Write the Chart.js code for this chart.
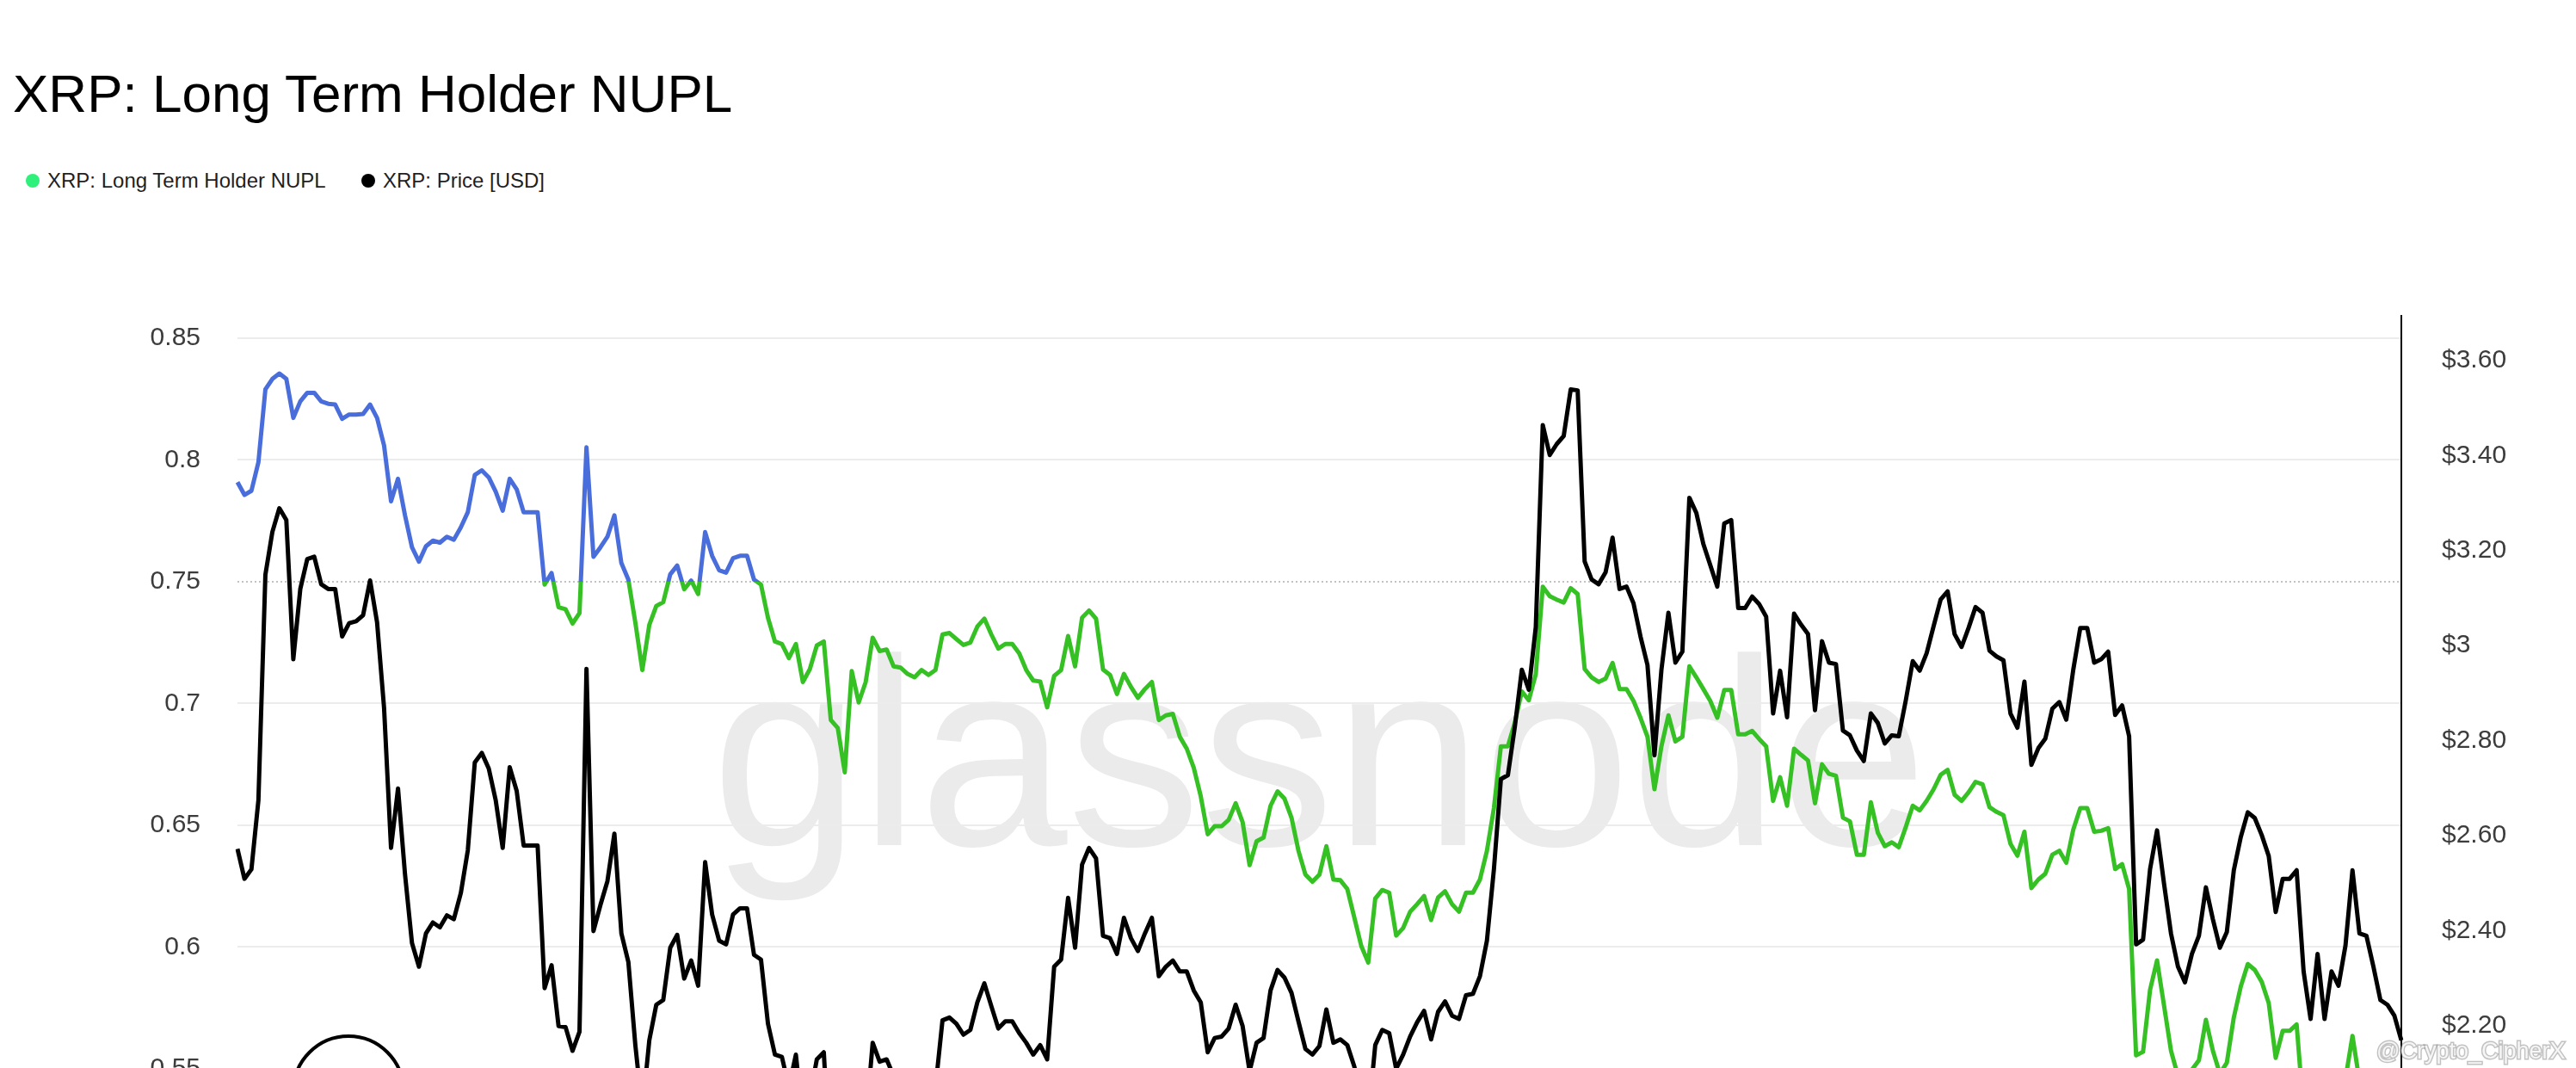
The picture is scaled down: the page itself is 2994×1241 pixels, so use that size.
<!DOCTYPE html>
<html>
<head>
<meta charset="utf-8">
<title>XRP: Long Term Holder NUPL</title>
<script src="https://cdn.jsdelivr.net/npm/chart.js@4.4.1/dist/chart.umd.min.js"></script>
<style>
  html, body { margin: 0; padding: 0; background: #fff; overflow: hidden; }
  #page { position: relative; width: 2994px; height: 1241px; overflow: hidden; font-family: "Liberation Sans", Arial, sans-serif; }
  h1 { position: absolute; left: 15px; top: 78px; margin: 0; font-size: 62px; line-height: 62px; font-weight: 400; color: #000; white-space: nowrap; }
  .item { position: absolute; top: 198px; height: 24px; display: flex; align-items: center; font-size: 24px; line-height: 24px; color: #1f1f1f; white-space: nowrap; }
  .dot { width: 16px; height: 16px; border-radius: 50%; margin-right: 9px; }
  #chart { position: absolute; left: 0; top: 0; }
</style>
</head>
<body>
<div id="page">
  <h1>XRP: Long Term Holder NUPL</h1>
  <div id="legend"></div>
  <canvas id="chart" width="2994" height="1590"></canvas>
</div>
<script>
// daily values, first day 2025-01-08
const startDay = '2025-01-08'

const nupl = [
  0.7908, 0.7856, 0.7873, 0.7990, 0.8289, 0.8332, 0.8354, 0.8332, 0.8172, 0.8240,
  0.8275, 0.8275, 0.8240, 0.8230, 0.8227, 0.8168, 0.8186, 0.8186, 0.8188, 0.8227,
  0.8172, 0.8059, 0.7830, 0.7922, 0.7772, 0.7641, 0.7582, 0.7645, 0.7668, 0.7660,
  0.7684, 0.7672, 0.7723, 0.7785, 0.7938, 0.7957, 0.7928, 0.7869, 0.7791, 0.7922,
  0.7879, 0.7785, 0.7785, 0.7785, 0.7488, 0.7535, 0.7395, 0.7387, 0.7328, 0.7371,
  0.8051, 0.7602, 0.7641, 0.7684, 0.7772, 0.7576, 0.7508, 0.7332, 0.7137, 0.7322,
  0.7400, 0.7416, 0.7530, 0.7566, 0.7469, 0.7504, 0.7449, 0.7703, 0.7606, 0.7547,
  0.7537, 0.7596, 0.7606, 0.7606, 0.7508, 0.7488, 0.7352, 0.7254, 0.7244, 0.7186,
  0.7244, 0.7088, 0.7141, 0.7238, 0.7254, 0.6932, 0.6899, 0.6717, 0.7133, 0.7004,
  0.7088, 0.7270, 0.7215, 0.7221, 0.7152, 0.7147, 0.7121, 0.7107, 0.7137, 0.7117,
  0.7137, 0.7283, 0.7289, 0.7264, 0.7240, 0.7250, 0.7316, 0.7348, 0.7283, 0.7225,
  0.7244, 0.7244, 0.7205, 0.7137, 0.7094, 0.7090, 0.6984, 0.7113, 0.7137, 0.7277,
  0.7152, 0.7352, 0.7381, 0.7348, 0.7139, 0.7117, 0.7039, 0.7121, 0.7068, 0.7023,
  0.7059, 0.7088, 0.6932, 0.6951, 0.6957, 0.6863, 0.6814, 0.6736, 0.6619, 0.6463,
  0.6496, 0.6496, 0.6522, 0.6590, 0.6512, 0.6336, 0.6434, 0.6449, 0.6580, 0.6639,
  0.6609, 0.6531, 0.6395, 0.6297, 0.6268, 0.6297, 0.6414, 0.6277, 0.6274, 0.6238,
  0.6121, 0.6004, 0.5936, 0.6199, 0.6234, 0.6223, 0.6047, 0.6078, 0.6145, 0.6176,
  0.6209, 0.6111, 0.6203, 0.6229, 0.6176, 0.6145, 0.6223, 0.6223, 0.6277, 0.6395,
  0.6570, 0.6824, 0.6824, 0.6922, 0.7049, 0.7013, 0.7120, 0.7479, 0.7440, 0.7426,
  0.7414, 0.7473, 0.7449, 0.7141, 0.7107, 0.7088, 0.7102, 0.7166, 0.7059, 0.7059,
  0.7010, 0.6941, 0.6863, 0.6648, 0.6824, 0.6951, 0.6844, 0.6863, 0.7152, 0.7107,
  0.7059, 0.7010, 0.6941, 0.7055, 0.7055, 0.6873, 0.6873, 0.6887, 0.6854, 0.6824,
  0.6600, 0.6697, 0.6580, 0.6814, 0.6789, 0.6766, 0.6590, 0.6750, 0.6711, 0.6703,
  0.6531, 0.6516, 0.6379, 0.6379, 0.6594, 0.6469, 0.6414, 0.6430, 0.6410, 0.6492,
  0.6580, 0.6561, 0.6600, 0.6648, 0.6707, 0.6727, 0.6625, 0.6600, 0.6635, 0.6678,
  0.6668, 0.6574, 0.6555, 0.6541, 0.6424, 0.6375, 0.6473, 0.6242, 0.6277, 0.6301,
  0.6379, 0.6395, 0.6346, 0.6482, 0.6570, 0.6570, 0.6473, 0.6477, 0.6488, 0.6320,
  0.6340, 0.6238, 0.5555, 0.5570, 0.5824, 0.5945, 0.5760, 0.5574, 0.5470, 0.5410,
  0.5496, 0.5535, 0.5701, 0.5574, 0.5480, 0.5525, 0.5711, 0.5838, 0.5930, 0.5906,
  0.5857, 0.5770, 0.5545, 0.5656, 0.5656, 0.5682, 0.5320, 0.5150, 0.5380, 0.5150,
  0.5320, 0.5270, 0.5460, 0.5635, 0.5450, 0.5440, 0.5340, 0.5220, 0.5200, 0.5160,
  0.5070
]

const price = [
  2.572, 2.509, 2.529, 2.674, 3.149, 3.239, 3.289, 3.264, 2.971, 3.119,
  3.182, 3.187, 3.129, 3.119, 3.119, 3.019, 3.047, 3.051, 3.064, 3.137,
  3.049, 2.869, 2.574, 2.699, 2.519, 2.374, 2.324, 2.394, 2.417, 2.407,
  2.432, 2.424, 2.479, 2.569, 2.754, 2.774, 2.741, 2.674, 2.574, 2.744,
  2.694, 2.579, 2.579, 2.579, 2.279, 2.327, 2.199, 2.197, 2.147, 2.187,
  2.951, 2.399, 2.454, 2.504, 2.604, 2.394, 2.334, 2.159, 2.020, 2.169,
  2.244, 2.254, 2.364, 2.391, 2.299, 2.337, 2.284, 2.544, 2.434, 2.379,
  2.371, 2.434, 2.447, 2.447, 2.349, 2.339, 2.204, 2.139, 2.134, 2.070,
  2.139, 2.000, 2.050, 2.129, 2.144, 1.880, 1.850, 1.720, 2.020, 1.920,
  1.990, 2.164, 2.124, 2.129, 2.094, 2.060, 2.040, 2.030, 2.060, 2.040,
  2.070, 2.211, 2.217, 2.204, 2.181, 2.191, 2.249, 2.289, 2.241, 2.194,
  2.209, 2.209, 2.184, 2.164, 2.139, 2.159, 2.129, 2.324, 2.339, 2.469,
  2.364, 2.539, 2.574, 2.552, 2.389, 2.384, 2.351, 2.427, 2.384, 2.357,
  2.394, 2.427, 2.304, 2.324, 2.337, 2.314, 2.314, 2.274, 2.249, 2.144,
  2.174, 2.177, 2.194, 2.244, 2.199, 2.104, 2.164, 2.174, 2.274, 2.317,
  2.301, 2.269, 2.209, 2.151, 2.139, 2.157, 2.234, 2.164, 2.171, 2.159,
  2.114, 2.045, 2.005, 2.159, 2.191, 2.184, 2.109, 2.139, 2.177, 2.207,
  2.231, 2.171, 2.229, 2.251, 2.221, 2.214, 2.264, 2.267, 2.304, 2.379,
  2.529, 2.719, 2.727, 2.829, 2.949, 2.907, 3.039, 3.464, 3.401, 3.424,
  3.441, 3.539, 3.537, 3.177, 3.139, 3.129, 3.154, 3.227, 3.119, 3.124,
  3.089, 3.019, 2.959, 2.769, 2.949, 3.069, 2.964, 2.987, 3.311, 3.279,
  3.214, 3.169, 3.124, 3.257, 3.264, 3.079, 3.079, 3.103, 3.087, 3.061,
  2.857, 2.947, 2.849, 3.067, 3.044, 3.024, 2.864, 3.009, 2.964, 2.961,
  2.821, 2.811, 2.779, 2.757, 2.857, 2.837, 2.794, 2.811, 2.809, 2.884,
  2.967, 2.947, 2.984, 3.041, 3.097, 3.114, 3.024, 2.997, 3.037, 3.081,
  3.069, 2.989, 2.977, 2.969, 2.857, 2.827, 2.924, 2.749, 2.784, 2.804,
  2.867, 2.881, 2.844, 2.949, 3.037, 3.037, 2.964, 2.971, 2.987, 2.854,
  2.874, 2.809, 2.371, 2.381, 2.529, 2.611, 2.499, 2.394, 2.324, 2.291,
  2.351, 2.389, 2.491, 2.424, 2.364, 2.397, 2.527, 2.597, 2.649, 2.637,
  2.601, 2.557, 2.439, 2.509, 2.509, 2.527, 2.314, 2.214, 2.351, 2.214,
  2.314, 2.284, 2.369, 2.527, 2.394, 2.389, 2.324, 2.254, 2.244, 2.221,
  2.169
]

const seriesNames = ['XRP: Long Term Holder NUPL', 'XRP: Price [USD]']
const legendDots = ['#2ef07a', '#000000']
const nuplTicks = [0.45, 0.5, 0.55, 0.6, 0.65, 0.7, 0.75, 0.8, 0.85]
const priceTicks = [1.6, 1.8, 2, 2.2, 2.4, 2.6, 2.8, 3, 3.2, 3.4, 3.6]
const nuplLevel = 0.75

const blue = '#4a6ddc'
const green = '#35c023'
const family = '"Liberation Sans", Arial, sans-serif'

const labels = []
const t0 = new Date(startDay + 'T00:00:00Z').getTime()
for (let i = 0; i < nupl.length; i++) {
  labels.push(new Date(t0 + i * 86400000).toISOString().slice(0, 10))
}

// legend in html
const legend = document.getElementById('legend')
const itemLeft = [30, 420]
seriesNames.forEach((name, i) => {
  const el = document.createElement('div')
  el.className = 'item'
  el.style.left = itemLeft[i] + 'px'
  el.innerHTML = '<span class="dot" style="background:' + legendDots[i] + '"></span><span>' + name + '</span>'
  legend.appendChild(el)
})

// blue above 0.75, green below
function nuplColor(ctx) {
  const chart = ctx.chart
  const area = chart.chartArea
  if (!area) return green
  const y = chart.scales.y.getPixelForValue(nuplLevel)
  const stop = Math.min(1, Math.max(0, (y - area.top) / (area.bottom - area.top)))
  const g = chart.ctx.createLinearGradient(0, area.top, 0, area.bottom)
  g.addColorStop(0, blue)
  g.addColorStop(stop, blue)
  g.addColorStop(stop, green)
  g.addColorStop(1, green)
  return g
}

const isLevel = ctx => ctx.tick && Math.abs(ctx.tick.value - nuplLevel) < 1e-6

const watermark = {
  id: 'watermark',
  beforeDraw(chart) {
    const { ctx, chartArea } = chart
    ctx.save()
    ctx.font = '310px ' + family
    ctx.fillStyle = '#ebebeb'
    ctx.textAlign = 'center'
    ctx.textBaseline = 'alphabetic'
    ctx.fillText('glassnode', (chartArea.left + chartArea.right) / 2, 982)
    ctx.restore()
  },
  // markup that was on the posted screenshot
  afterDraw(chart) {
    const { ctx } = chart
    ctx.save()
    ctx.strokeStyle = '#000'
    ctx.lineWidth = 4
    ctx.beginPath()
    ctx.ellipse(405, 1268, 64, 64, 0, 0, Math.PI * 2)
    ctx.stroke()
    ctx.font = '27px ' + family
    ctx.textAlign = 'left'
    ctx.lineWidth = 3
    ctx.strokeStyle = 'rgba(120,120,120,0.45)'
    ctx.fillStyle = 'rgba(255,255,255,0.85)'
    ctx.strokeText('@Crypto_CipherX', 2762, 1230)
    ctx.fillText('@Crypto_CipherX', 2762, 1230)
    ctx.restore()
  }
}

new Chart('chart', {
  type: 'line',
  data: {
    labels,
    datasets: [{
      label: seriesNames[0],
      data: nupl,
      yAxisID: 'y',
      borderColor: nuplColor,
      borderWidth: 5,
      pointRadius: 0,
      borderJoinStyle: 'round',
      tension: 0,
      order: 1
    }, {
      label: seriesNames[1],
      data: price,
      yAxisID: 'price',
      borderColor: '#000',
      borderWidth: 5,
      pointRadius: 0,
      borderJoinStyle: 'round',
      tension: 0,
      order: 0
    }]
  },
  options: {
    responsive: false,
    animation: false,
    devicePixelRatio: 1,
    layout: { padding: { top: 367, bottom: 10, left: 0, right: 0 } },
    plugins: {
      legend: { display: false },
      title: { display: false },
      tooltip: { enabled: false }
    },
    scales: {
      x: { display: false },
      y: {
        position: 'left',
        min: 0.45,
        max: 0.8591,
        afterFit: s => { s.width = 276 },
        afterBuildTicks: s => { s.ticks = nuplTicks.map(value => ({ value })) },
        ticks: {
          padding: 43,
          color: '#3c3c3c',
          font: { size: 30, family },
          callback: v => String(Math.round(v * 100) / 100)
        },
        grid: {
          drawTicks: false,
          lineWidth: 2,
          color: ctx => isLevel(ctx) ? '#c2c2c2' : '#ececec'
        },
        border: { display: false, dash: ctx => isLevel(ctx) ? [2, 3] : [] }
      },
      price: {
        position: 'right',
        min: 1.5964,
        max: 3.6939,
        afterFit: s => { s.width = 203 },
        afterBuildTicks: s => { s.ticks = priceTicks.map(value => ({ value })) },
        ticks: {
          padding: 47,
          color: '#3c3c3c',
          font: { size: 30, family },
          callback: v => v === 3 || v === 2 ? '$' + v : '$' + v.toFixed(2)
        },
        grid: { display: false, drawTicks: false },
        border: { display: true, color: '#000', width: 2 }
      }
    }
  },
  plugins: [watermark]
})
</script>
</body>
</html>
